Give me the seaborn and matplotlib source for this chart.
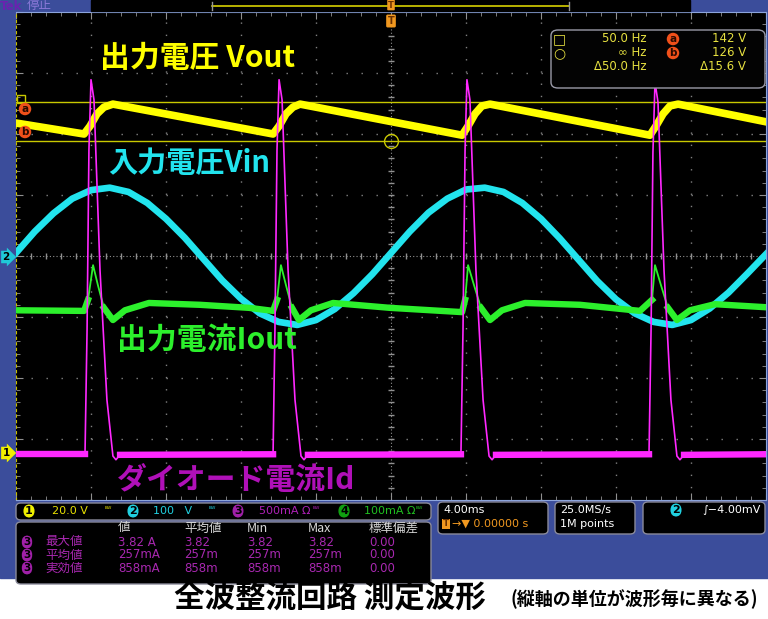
import numpy as np
import pandas as pd
import seaborn as sns
import matplotlib.pyplot as plt
from matplotlib.patches import Rectangle, FancyBboxPatch

W, H = 768, 619

# traces
# time in ms (4 ms/div, 10 div), level in divisions from screen centre (8 div)
vout_t = [0.00, 3.63, 3.95, 4.32, 4.69, 5.17, 13.71, 14.03, 14.40, 14.77, 15.15,
          23.79, 24.11, 24.48, 24.85, 25.28, 33.81, 34.13, 34.51, 34.88, 35.31, 40.00]
vout_div = [2.18, 2.00, 2.13, 2.33, 2.44, 2.49, 2.00, 2.13, 2.33, 2.44, 2.49,
            1.98, 2.13, 2.33, 2.46, 2.49, 1.98, 2.13, 2.33, 2.46, 2.49, 2.20]

vin_t = list(range(41))
vin_div = [0.05, 0.40, 0.70, 0.94, 1.08, 1.12, 1.05, 0.87, 0.61, 0.30, -0.05,
           -0.40, -0.70, -0.94, -1.08, -1.13, -1.05, -0.87, -0.61, -0.30, 0.05,
           0.40, 0.71, 0.94, 1.09, 1.12, 1.05, 0.87, 0.61, 0.29, -0.06,
           -0.41, -0.71, -0.94, -1.08, -1.13, -1.05, -0.86, -0.60, -0.29, 0.03]

iout_t = [0.00, 3.63, 3.84, 4.11, 4.37, 4.69, 5.17, 5.81, 7.09, 9.81, 12.43,
          13.71, 13.92, 14.13, 14.40, 14.72, 15.09, 15.73, 16.91, 19.95,
          23.79, 23.95, 24.11, 24.43, 24.80, 25.28, 25.92, 27.15, 30.08,
          33.28, 33.92, 34.08, 34.40, 34.77, 35.25, 35.95, 37.28, 40.00]
iout_div = [-0.89, -0.90, -0.72, -0.15, -0.48, -0.85, -1.05, -0.89, -0.77, -0.80, -0.85,
            -0.90, -0.72, -0.15, -0.48, -0.85, -1.05, -0.89, -0.77, -0.85,
            -0.92, -0.72, -0.15, -0.48, -0.85, -1.05, -0.89, -0.77, -0.80,
            -0.90, -0.72, -0.15, -0.48, -0.85, -1.05, -0.89, -0.79, -0.84]

id_t = [0.00, 3.68, 3.79, 3.89, 4.00, 4.16, 4.48, 4.85, 5.17, 5.33, 5.55,
        13.71, 13.81, 13.92, 14.03, 14.19, 14.51, 14.88, 15.20, 15.36, 15.57,
        23.73, 23.84, 23.95, 24.05, 24.21, 24.53, 24.91, 25.23, 25.39, 25.60,
        33.76, 33.87, 33.97, 34.08, 34.24, 34.56, 34.93, 35.25, 35.41, 35.63, 40.00]
id_div = [-3.25, -3.25, -1.21, 1.74, 2.89, 2.56, -0.23, -2.36, -3.28, -3.34, -3.26,
          -3.25, -1.21, 1.74, 2.89, 2.56, -0.23, -2.36, -3.28, -3.34, -3.26,
          -3.25, -1.21, 1.74, 2.89, 2.56, -0.23, -2.36, -3.28, -3.34, -3.26,
          -3.25, -1.21, 1.70, 2.85, 2.52, -0.23, -2.36, -3.28, -3.34, -3.26, -3.25]

cursor_a, cursor_b = 2.52, 1.885

readout = [("50.0 Hz", "142 V"), ("∞ Hz", "126 V"), ("Δ50.0 Hz", "Δ15.6 V")]
meas_head = ["値", "平均値", "Min", "Max", "標準偏差"]
meas_rows = [("最大値", ["3.82 A", "3.82", "3.82", "3.82", "0.00"]),
             ("平均値", ["257mA", "257m", "257m", "257m", "0.00"]),
             ("実効値", ["858mA", "858m", "858m", "858m", "0.00"])]

BLUE = "#3b4d9b"
YEL, CYA, GRN, MAG = "#ffff00", "#22e4ee", "#2cf02c", "#ff28ff"

plt.rcParams['font.family'] = ['Noto Sans CJK JP', 'DejaVu Sans']

fig = plt.figure(figsize=(7.68, 6.19), dpi=100)
fig.patch.set_facecolor('white')


def fx(x):
    return x / W


def fy(y):
    return 1 - y / H


def box(x0, y0, x1, y1, fc='black', ec='#8a8a9a', r=4, lw=1.0):
    fig.add_artist(FancyBboxPatch((fx(x0), fy(y1)), (x1 - x0) / W, (y1 - y0) / H,
                                  boxstyle=f"round,pad=0,rounding_size={r / W}",
                                  transform=fig.transFigure, fc=fc, ec=ec, lw=lw))


def pill(x, y, s, fc, size=8):
    fig.text(fx(x), fy(y), s, ha='center', va='center', fontsize=size, color='black',
             fontweight='bold', family='DejaVu Sans',
             bbox=dict(boxstyle='round,pad=0.15,rounding_size=0.6', fc=fc, ec='none'))


# blue scope frame
fig.add_artist(Rectangle((0, fy(578)), 1, 578 / H, transform=fig.transFigure, color=BLUE, zorder=0))
fig.add_artist(Rectangle((fx(91), fy(11)), 599 / W, 11 / H, transform=fig.transFigure, color='black'))
fig.add_artist(plt.Line2D([fx(212), fx(569)], [fy(6), fy(6)], transform=fig.transFigure, color='#d8d000', lw=1.2))
for xb in (212, 569):
    fig.add_artist(plt.Line2D([fx(xb), fx(xb)], [fy(2), fy(10)], transform=fig.transFigure, color='#999999', lw=1))
fig.text(fx(0), fy(6), "Tek", fontsize=8.5, fontweight='bold', color='#6a22b0', va='center', family='DejaVu Sans')
fig.text(fx(27), fy(5), "停止", fontsize=9, color='#8a78d8', va='center')

# graticule
ax = fig.add_axes([fx(16), fy(500), 750 / W, 488 / H])
ax.set_facecolor('black')
ax.set_xlim(0, 40)
ax.set_ylim(-4, 4)
for x in range(4, 40, 4):
    if x != 20:
        ax.axvline(x, color='#808080', lw=1, ls=(0, (1, 7.8)), zorder=1)
for y in range(-3, 4):
    if y != 0:
        ax.axhline(y, color='#808080', lw=1, ls=(0, (1, 9.8)), zorder=1)
ax.axvline(20, color='#909090', lw=0.8, ls=(0, (1, 2)), zorder=1)
ax.axhline(0, color='#909090', lw=0.8, ls=(0, (1, 2)), zorder=1)
ax.plot(np.arange(0.8, 40, 0.8), np.zeros(49), ls='none', marker='|', ms=5, color='#909090', zorder=1)
ax.plot(np.zeros(39) + 20, np.arange(-3.8, 4, 0.2), ls='none', marker='_', ms=5, color='#909090', zorder=1)
ax.set_xticks(range(0, 41, 4))
ax.set_xticks(np.arange(0, 40.1, 0.8), minor=True)
ax.set_yticks(range(-4, 5))
ax.set_yticks(np.arange(-4, 4.01, 0.2), minor=True)
ax.tick_params(which='both', direction='in', top=True, right=True, labelbottom=False,
               labelleft=False, color='#909090')
ax.tick_params(which='major', length=5)
ax.tick_params(which='minor', length=3)
for sp in ax.spines.values():
    sp.set_color('#8ca4dc')
ax.spines['left'].set_color('#c8c000')
ax.spines['left'].set_linestyle((0, (2, 3)))
ax.grid(False)

# cursors
ax.axhline(cursor_a, color='#c8c800', lw=1, zorder=2)
ax.axhline(cursor_b, color='#c8c800', lw=1, zorder=2)


def trace(t, v, color, lw, band=None, thin_lw=1.3):
    # noisy baseline drawn as a wide band, fast edges as a thin line
    df = pd.DataFrame({'t': t, 'v': v})
    if band is None:
        sns.lineplot(data=df, x='t', y='v', color=color, lw=lw, estimator=None, ax=ax, zorder=3)
        return
    sns.lineplot(data=df, x='t', y='v', color=color, lw=thin_lw, estimator=None, ax=ax, zorder=3)
    mask = df['v'].between(*band)
    df['seg'] = (~mask).cumsum()
    sns.lineplot(data=df[mask], x='t', y='v', units='seg', color=color, lw=lw,
                 estimator=None, ax=ax, zorder=3)


trace(vin_t, vin_div, CYA, 4.8)
trace(vout_t, vout_div, YEL, 5.5)
trace(iout_t, iout_div, GRN, 4.6, band=(-1.2, -0.6))
trace(id_t, id_div, MAG, 4.6, band=(-3.3, -3.0), thin_lw=1.2)
ax.set_xlabel('')
ax.set_ylabel('')

# cursor markers
ax.plot([0.25], [2.57], marker='s', ms=6, mfc='none', mec='#c8c800', mew=1, zorder=4, clip_on=False)
ax.plot([20], [cursor_b], marker='o', ms=10, mfc='none', mec='#c8c800', mew=1, zorder=4)
for yy, s in ((109, 'a'), (132, 'b')):
    fig.text(fx(25), fy(yy), s, ha='center', va='center', fontsize=7.5, fontweight='bold',
             color='#2a0a00', family='DejaVu Sans',
             bbox=dict(boxstyle='circle,pad=0.12', fc='#f0501a', ec='none'))

# channel ground tags and trigger
fig.text(fx(6), fy(257), "2", ha='center', va='center', fontsize=7.5, fontweight='bold', family='DejaVu Sans',
         bbox=dict(boxstyle='rarrow,pad=0.12', fc='#20c8d8', ec='none'))
fig.text(fx(6), fy(453), "1", ha='center', va='center', fontsize=7.5, fontweight='bold', family='DejaVu Sans',
         bbox=dict(boxstyle='rarrow,pad=0.12', fc='#f0f000', ec='none'))
fig.text(fx(391), fy(21), "T", ha='center', va='center', fontsize=7, fontweight='bold', color='#6a3000',
         family='DejaVu Sans', bbox=dict(boxstyle='round,pad=0.15', fc='#f09820', ec='none'))
fig.text(fx(391), fy(5), "T", ha='center', va='center', fontsize=6, fontweight='bold', color='#6a3000',
         family='DejaVu Sans', bbox=dict(boxstyle='round,pad=0.1', fc='#f09820', ec='none'))

# trace labels
fig.text(fx(100), fy(58), "出力電圧 Vout", fontsize=21.5, fontweight='bold', color=YEL, va='center')
fig.text(fx(108), fy(163), "入力電圧Vin", fontsize=21, fontweight='bold', color=CYA, va='center')
fig.text(fx(117), fy(340), "出力電流Iout", fontsize=21.5, fontweight='bold', color=GRN, va='center')
fig.text(fx(117), fy(480), "ダイオード電流Id", fontsize=21.5, fontweight='bold', color='#b010b8', va='center')

# cursor readout box
box(551, 30, 765, 88, fc='#030303', ec='#9a9aa8', r=7)
fig.text(fx(559), fy(39), "□", ha='center', va='center', fontsize=10, color='#e6e040', family='DejaVu Sans')
fig.text(fx(559), fy(53), "○", ha='center', va='center', fontsize=10, color='#e6e040', family='DejaVu Sans')
for (f, v), yy in zip(readout, (39, 53, 67)):
    fig.text(fx(647), fy(yy), f, ha='right', va='center', fontsize=8.5, color='#e6e040', family='DejaVu Sans')
    fig.text(fx(746), fy(yy), v, ha='right', va='center', fontsize=8.5, color='#e6e040', family='DejaVu Sans')
for yy, s in ((39, 'a'), (53, 'b')):
    fig.text(fx(673), fy(yy), s, ha='center', va='center', fontsize=7.5, fontweight='bold',
             color='#2a0a00', family='DejaVu Sans',
             bbox=dict(boxstyle='circle,pad=0.12', fc='#f0501a', ec='none'))

# channel settings bar
box(16, 503, 431, 520, r=5)
pill(29, 511, "1", '#f0f000')
fig.text(fx(52), fy(511), "20.0 V", fontsize=8, color='#e8e000', va='center', family='DejaVu Sans')
pill(133, 511, "2", '#20d0e0')
fig.text(fx(153), fy(511), "100   V", fontsize=8, color='#20d0e0', va='center', family='DejaVu Sans')
pill(238, 511, "3", '#a020a8')
fig.text(fx(259), fy(511), "500mA Ω", fontsize=8, color='#b020b8', va='center', family='DejaVu Sans')
pill(344, 511, "4", '#10a010')
fig.text(fx(364), fy(511), "100mA Ω", fontsize=8, color='#20c020', va='center', family='DejaVu Sans')
for xb, c in ((108, '#e8e000'), (212, '#20d0e0'), (316, '#b020b8'), (419, '#20c020')):
    fig.text(fx(xb), fy(510), "ᴮᵂ", fontsize=5, color=c, va='center', ha='center', family='DejaVu Sans')

# measurement table
box(16, 522, 431, 584, r=5)
cols = [118, 184, 247, 308, 369]
for x, s in zip(cols, meas_head):
    fig.text(fx(x), fy(528), s, fontsize=9, color='#d8d8d8', va='center')
for (name, vals), yy in zip(meas_rows, (542, 555, 568)):
    pill(27, yy, "3", '#a020a8', size=7.5)
    fig.text(fx(45), fy(yy), name, fontsize=9, color='#a828b0', va='center')
    for x, s in zip(cols, vals):
        fig.text(fx(x), fy(yy), s, fontsize=8.5, color='#a828b0', va='center', family='DejaVu Sans')

# timebase / acquisition / trigger boxes
box(438, 502, 548, 534, r=5)
fig.text(fx(443), fy(510), "4.00ms", fontsize=8, color='white', va='center', family='DejaVu Sans')
fig.text(fx(446), fy(524), "T", fontsize=6.5, fontweight='bold', color='#6a3000', va='center', ha='center',
         family='DejaVu Sans', bbox=dict(boxstyle='square,pad=0.1', fc='#f09820', ec='none'))
fig.text(fx(452), fy(524), "→▼ 0.00000 s", fontsize=8, color='#f09820', va='center', family='DejaVu Sans')
box(555, 502, 635, 534, r=5)
fig.text(fx(560), fy(510), "25.0MS/s", fontsize=8, color='white', va='center', family='DejaVu Sans')
fig.text(fx(560), fy(524), "1M points", fontsize=8, color='white', va='center', family='DejaVu Sans')
box(643, 502, 765, 534, r=5)
pill(676, 510, "2", '#20d0e0')
fig.text(fx(761), fy(510), "∫−4.00mV", fontsize=8, color='white', va='center', ha='right', family='DejaVu Sans')

# caption under the screen
fig.text(fx(330), fy(598), "全波整流回路 測定波形", fontsize=22, fontweight='bold', color='black',
         ha='center', va='center')
fig.text(fx(634), fy(599), "(縦軸の単位が波形毎に異なる)", fontsize=13, fontweight='bold', color='black',
         ha='center', va='center')

fig.savefig("out.png", dpi=100, facecolor=fig.get_facecolor())
